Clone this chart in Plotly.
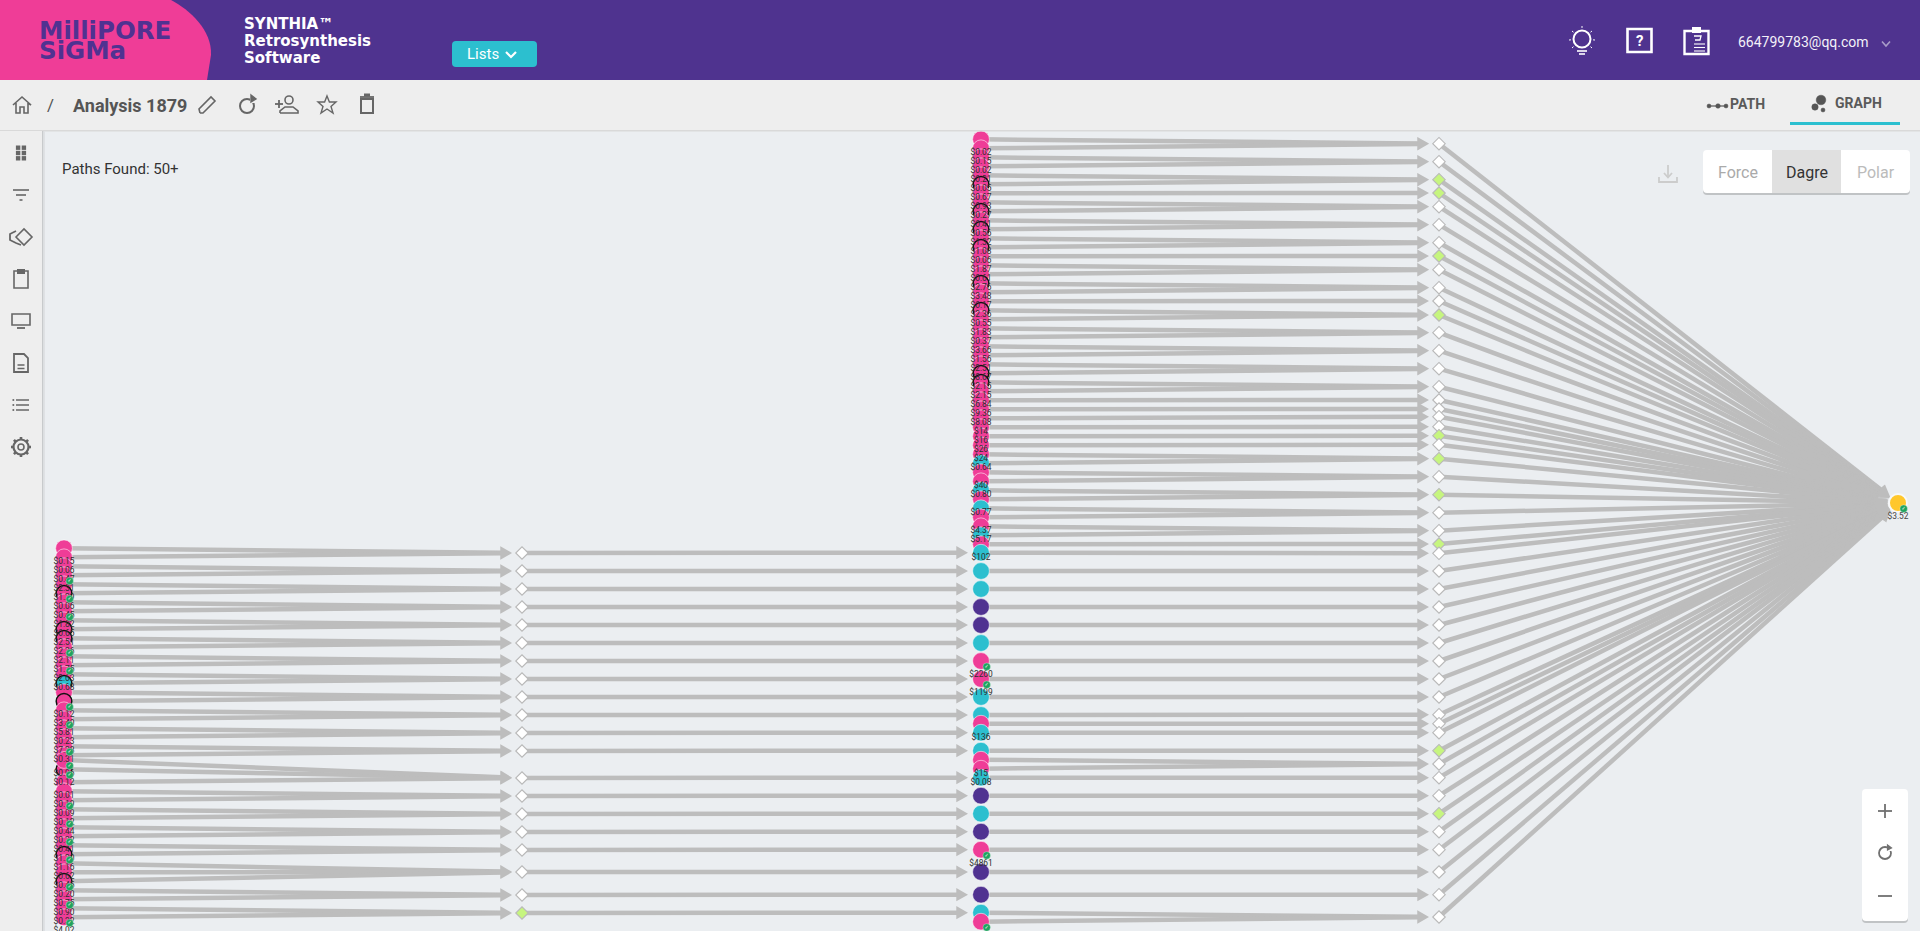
import numpy as np
import plotly.graph_objects as go

PINK = '#ef3d97'
TEAL = '#2cbfcf'
PURPLE = '#503291'
EDGE = '#bdbdbd'
ICON = '#666666'
NODE_COLOR = {'p': PINK, 't': TEAL, 'u': PURPLE}

# column x positions of the dagre layout
col_x = [64, 522, 981, 1439]
target_x = 1898
target_y = [503]
target_cost = '$3.52'

# first column: starting materials
col0_y = [548.3, 557.3, 566.3, 575.3, 584.3, 593.3, 602.3, 611.3, 620.3, 629.3, 638.3, 647.3, 656.3, 665.3,
          674.3, 683.3, 692.3, 701.3, 710.3, 719.3, 728.3, 737.3, 746.3, 755.3, 769.3, 760, 782.3, 791.3,
          800.3, 809.3, 818.3, 827.3, 836.3, 845.3, 854.3, 863.3, 872.3, 881.3, 890.3, 899.3, 908.3, 917.3]
col0_kind = list('ppppppppppppppp' + 't' + 'p' * 26)
col0_cost = ['$0.15', '$0.06', '$0.47', '$2.31', '$1.29', '$0.06', '$0.45', '$1.82', '$0.65', '$2.51', '$2.36',
             '$2.11', '$1.75', '$2.63', '$0.68', '', '', '$0.12', '$3.40', '$5.81', '$0.23', '$7.28', '$0.31', '',
             '$0.12', '$0.96', '$0.01', '$0.19', '$0.09', '$0.12', '$0.44', '$0.32', '$0.41', '$1.20', '$1.16',
             '$0.62', '$0.45', '$0.20', '$0.75', '$0.90', '$0.32', '$4.02']
col0_ring = [5, 9, 10, 15, 17, 24, 34, 37]
col0_check = [3, 5, 7, 11, 13, 17, 19, 22, 24, 25, 28, 30, 32, 34, 37, 39, 41]
col0_to = [0, 0, 1, 1, 2, 2, 3, 3, 4, 4, 5, 5, 6, 6, 7, 7, 8, 8, 9, 9, 10, 10, 11, 11,
           12, 12, 12, 13, 13, 14, 14, 15, 15, 16, 16, 17, 17, 17, 18, 18, 19, 19]

# second column: reactions
col1_y = [553, 571, 589, 607, 625, 643, 661, 679, 697, 715, 733, 751, 778, 796, 814, 832, 850, 872, 895, 913]
col1_green = [19]
col1_to = [46, 47, 48, 49, 50, 51, 52, 53, 54, 55, 57, 58, 61, 62, 63, 64, 65, 66, 67, 68]

# third column: intermediates
col2_y = [139.3, 148.3, 157.3, 166.3, 175.3, 184.3, 193.3, 202.3, 211.3, 220.3, 229.3, 238.3, 247.3, 256.3,
          265.3, 274.3, 283.3, 292.3, 301.3, 310.3, 319.3, 328.3, 337.3, 346.3, 355.3, 364.3, 373.3, 382.3,
          391.3, 400.3, 409.3, 418.3, 427.3, 436.3, 445.3, 454.3, 463.3, 472.3, 481.3, 490.3, 499.3, 508.3,
          517.3, 526.3, 535.3, 544.3, 552.7, 571, 589, 607, 625, 643, 661, 679, 697, 715, 723.7, 732.7,
          750.7, 759.7, 768.7, 777.7, 795.7, 813.7, 831.7, 849.7, 872, 894.7, 912.7, 921.7]
col2_kind = list('p' * 36 + 'tppt' + 'pt' + 'ppt' + 'p' + 'ttt' + 'uu' + 't' + 'pp' + 'tt' + 'p' + 'tt'
                 + 'pp' + 't' + 'u' + 't' + 'u' + 'p' + 'uu' + 't' + 'p')
col2_cost = ['$0.02', '$0.15', '$0.02', '$0.21', '$0.05', '$0.67', '$0.93', '$0.27', '$0.41', '$0.56', '$1.32',
             '$1.08', '$0.06', '$1.87', '$0.61', '$2.76', '$3.48', '$0.17', '$2.36', '$0.55', '$1.83', '$0.37',
             '$3.66', '$1.56', '$2.51', '$8.67', '$2.15', '$2.15', '$6.84', '$9.36', '$8.08', '$14', '$16',
             '$26', '$24', '$0.64', '', '$40', '$0.80', '', '$0.77', '', '$4.37', '$5.17', '', '$102',
             '', '', '', '', '', '', '$2260', '$1199', '', '', '$136', '', '', '$15', '$0.08', '', '', '', '',
             '$4861', '', '', '', '']
col2_ring = [5, 8, 10, 12, 16, 19, 26, 27]
col2_check = [52, 53, 65, 69]
col2_to = [0, 0, 1, 1, 2, 2, 3, 4, 4, 5, 5, 6, 6, 7, 8, 8, 9, 9, 10, 11, 11, 12, 12, 13, 13, 14, 14, 15, 15,
           16, 17, 18, 19, 20, 21, 22, 22, 23, 23, 24, 24, 25, 25, 26, 26, 27, 28, 29, 30, 31, 32, 33, 34, 35,
           36, 37, 38, 39, 40, 41, 41, 42, 43, 44, 45, 46, 47, 48, 49, 49]

# fourth column: last reactions
col3_y = [143.7, 161.7, 179.7, 193, 206.7, 224.7, 242.7, 256, 269.7, 287.7, 301, 315, 332.7, 350.7, 368.7,
          386.7, 400, 409, 416.7, 426.7, 435.7, 444.7, 458.7, 476.7, 494.7, 512.7, 530.7, 544, 553.3, 571,
          589, 607, 625, 643, 661, 679, 697, 714.7, 723.7, 732.7, 750.7, 764, 777.7, 795.7, 813.7, 831.7,
          849.7, 872, 894.7, 917]
col3_green = [2, 3, 7, 11, 20, 22, 24, 27, 40, 44]

fig = go.Figure()


def add_edges(src_x, src_y, dst_x, dst_y, dst_index, gap):
    # straight edge plus a filled arrow head stopping short of the node
    line_x, line_y, head_x, head_y = [], [], [], []
    for y0, i in zip(src_y, dst_index):
        p0 = np.array([src_x, y0])
        p1 = np.array([dst_x, dst_y[i]])
        u = (p1 - p0) / np.linalg.norm(p1 - p0)
        n = np.array([-u[1], u[0]])
        tip = p1 - u * gap
        base = tip - u * 11.7
        line_x += [p0[0], base[0] + u[0], None]
        line_y += [p0[1], base[1] + u[1], None]
        a, b = base + n * 6.6, base - n * 6.6
        head_x += [a[0], tip[0], b[0], a[0], None]
        head_y += [a[1], tip[1], b[1], a[1], None]
    fig.add_trace(go.Scatter(x=line_x, y=line_y, mode='lines', line=dict(color=EDGE, width=4.5)))
    fig.add_trace(go.Scatter(x=head_x, y=head_y, mode='lines', line=dict(color=EDGE, width=0),
                             fill='toself', fillcolor=EDGE))


def add_circles(x, ys, kinds, costs, rings, checks):
    fig.add_trace(go.Scatter(
        x=[x] * len(ys), y=ys, mode='markers',
        marker=dict(
            opacity=1,
            color=[NODE_COLOR[k] for k in kinds],
            size=[15.6 if i in rings else 16.8 for i in range(len(ys))],
            line=dict(color=['#111111' if i in rings else 'rgba(255,255,255,0.55)' for i in range(len(ys))],
                      width=[1.5 if i in rings else 1 for i in range(len(ys))]),
        ),
    ))
    fig.add_trace(go.Scatter(
        x=[x] * len(ys), y=[y + 14 for y in ys], mode='text', text=costs,
        textfont=dict(family='Roboto', size=8.4, color='#2f2f2f'),
    ))
    add_checks([x + 5.7] * len(checks), [ys[i] + 5.7 for i in checks])


def add_checks(xs, ys):
    fig.add_trace(go.Scatter(
        x=xs, y=ys, mode='markers+text', text=['✓'] * len(xs), textposition='middle center',
        textfont=dict(family='DejaVu Sans', size=5, color='white'),
        marker=dict(opacity=1, color='#1fa35f', size=7.5, line=dict(color='rgba(255,255,255,0.6)', width=0.5)),
    ))


def add_diamonds(x, ys, green):
    fig.add_trace(go.Scatter(
        x=[x] * len(ys), y=ys, mode='markers',
        marker=dict(
            opacity=1, symbol='diamond', size=9.6,
            color=['#c6f57f' if i in green else 'white' for i in range(len(ys))],
            line=dict(color='#b9b9b9', width=1.1),
        ),
    ))


add_edges(col_x[0], col0_y, col_x[1], col1_y, col0_to, 10)
add_edges(col_x[1], col1_y, col_x[2], col2_y, col1_to, 13)
add_edges(col_x[2], col2_y, col_x[3], col3_y, col2_to, 10)
add_edges(col_x[3], col3_y, target_x, target_y, [0] * len(col3_y), 10)

add_circles(col_x[0], col0_y, col0_kind, col0_cost, col0_ring, col0_check)
add_diamonds(col_x[1], col1_y, col1_green)
add_circles(col_x[2], col2_y, col2_kind, col2_cost, col2_ring, col2_check)
add_diamonds(col_x[3], col3_y, col3_green)

# target molecule
fig.add_trace(go.Scatter(x=[target_x], y=target_y, mode='markers',
                         marker=dict(opacity=1, color='#ffc72c', size=18, line=dict(color='#f7f8f9', width=2))))
fig.add_trace(go.Scatter(x=[target_x], y=[target_y[0] + 14], mode='text', text=[target_cost],
                         textfont=dict(family='Roboto', size=8.4, color='#444444')))
add_checks([target_x + 5.7], [target_y[0] + 5.7])

# page chrome, everything below is in screen pixels
shapes = []
notes = []


def rect(x0, y0, x1, y1, fill, line=None, width=0, layer='above'):
    shapes.append(dict(type='rect', x0=x0, y0=y0, x1=x1, y1=y1, xref='x', yref='y', fillcolor=fill,
                       line=dict(color=line or fill, width=width), layer=layer))


def rounded(x0, y0, x1, y1, r, fill):
    path = (f'M{x0 + r},{y0} L{x1 - r},{y0} Q{x1},{y0} {x1},{y0 + r} L{x1},{y1 - r} Q{x1},{y1} {x1 - r},{y1} '
            f'L{x0 + r},{y1} Q{x0},{y1} {x0},{y1 - r} L{x0},{y0 + r} Q{x0},{y0} {x0 + r},{y0} Z')
    shapes.append(dict(type='path', path=path, xref='x', yref='y', fillcolor=fill, line=dict(width=0), layer='above'))


def poly(cx, cy, pts, color=ICON, width=1.6, fill=None, closed=False):
    d = 'M' + ' L'.join(f'{cx + x},{cy + y}' for x, y in pts) + (' Z' if closed else '')
    shapes.append(dict(type='path', path=d, xref='x', yref='y', fillcolor=fill,
                       line=dict(color=color, width=width), layer='above'))


def circle(cx, cy, r, color=ICON, width=1.6, fill=None):
    shapes.append(dict(type='circle', x0=cx - r, y0=cy - r, x1=cx + r, y1=cy + r, xref='x', yref='y',
                       fillcolor=fill, line=dict(color=color, width=width), layer='above'))


def label(x, y, text, size, color, family='Roboto', anchor='left'):
    notes.append(dict(x=x, y=y, xref='x', yref='y', text=text, showarrow=False, xanchor=anchor, yanchor='middle',
                      font=dict(family=family, size=size, color=color)))


# header and toolbars
rect(0, 0, 1920, 80, '#4f338f')
shapes.append(dict(type='path', path='M0,0 L171,0 C190,10 212,30 211,55 L207,80 L0,80 Z', xref='x', yref='y',
                   fillcolor=PINK, line=dict(width=0), layer='above'))
label(37, 30, '<b>MilliPORE</b>', 24.5, '#503291', 'DejaVu Sans')
label(37, 50, '<b>SiGMa</b>', 24.5, '#503291', 'DejaVu Sans')
label(242, 24, '<b>SYNTHIA™</b>', 15, 'white', 'DejaVu Sans')
label(242, 41, '<b>Retrosynthesis</b>', 15, 'white', 'DejaVu Sans')
label(242, 58, '<b>Software</b>', 15, 'white', 'DejaVu Sans')
rounded(452, 41, 537, 67, 4, TEAL)
label(465, 54, 'Lists', 15, 'white')
poly(511, 55, [(-5, -3), (0, 2), (5, -3)], 'white', 2.2)

circle(1582, 39, 8.5, 'white', 2)
poly(1582, 51, [(-5, 0), (5, 0)], 'white', 1.6)
poly(1582, 54, [(-3, 0), (3, 0)], 'white', 1.6)
for dx, dy in [(-13, 1), (13, 1), (-10, -8), (10, -8), (-10, 9), (10, 9), (0, -13)]:
    poly(1582, 39, [(dx, dy), (dx * 0.85, dy * 0.85)], 'white', 1)
poly(1627.5, 29, [(0, 0), (24, 0), (24, 23), (0, 23)], 'white', 2.6, closed=True)
label(1639.5, 41, '<b>?</b>', 15, 'white', anchor='center')
poly(1684.5, 31, [(0, 0), (24, 0), (24, 23), (0, 23)], 'white', 2.4, closed=True)
rect(1692, 27, 1701, 33, 'white')
poly(1692, 36, [(2, 0), (9, 0), (8, 4), (3, 4)], 'white', 1.3)
for dy in [44, 47.5, 51]:
    poly(1684, dy, [(10, 0), (21, 0)], 'white', 1.1)
label(1735.5, 42, '664799783@qq.com', 14, '#f3f1f8')
poly(1886, 44, [(-4, -2.5), (0, 2), (4, -2.5)], '#a99cc8', 1.6)

rect(0, 80, 1920, 130, '#eeeeee')
rect(0, 130, 1920, 131.5, '#d9d9d9')
rect(0, 131, 42, 931, '#eeeeee')
rect(42, 131, 43.5, 931, '#c8cacc')
rect(43.5, 131, 45, 931, '#dfe1e4')
poly(22, 105, [(-9, 0), (0, -8), (9, 0), (6, -2), (6, 8), (2, 8), (2, 2), (-2, 2), (-2, 8), (-6, 8), (-6, -2)], ICON, 1.6)
label(50, 105, '/', 17, '#555555', anchor='center')
label(71, 105, '<b>Analysis 1879</b>', 18, '#555555')
poly(207, 105, [(-7, 8), (-8, 4), (4, -8), (8, -4), (-4, 8), (-7, 8)], ICON, 1.6)
circle(247, 106, 7, ICON, 2)
rect(250, 96, 258, 103, '#eeeeee')
poly(247, 105, [(4, -10), (9, -6), (4, -3)], ICON, 1.4, ICON, True)
circle(289, 100, 4, ICON, 1.6)
poly(289, 113, [(-9, 0), (-9, -2), (-4, -6), (4, -6), (9, -2), (9, 0), (-9, 0)], ICON, 1.6)
poly(279, 104, [(-4, 0), (4, 0)], ICON, 1.8)
poly(279, 104, [(0, -4), (0, 4)], ICON, 1.8)
poly(327, 105, [(0, -9), (2.4, -3), (9, -3), (4, 1.5), (6, 8), (0, 4), (-6, 8), (-4, 1.5), (-9, -3), (-2.4, -3)],
     ICON, 1.4, closed=True)
poly(367, 104, [(-6, -5), (6, -5), (6, 9), (-6, 9)], ICON, 2, closed=True)
poly(367, 97, [(-7, 0), (7, 0)], ICON, 1.8)
rect(364, 93.5, 370, 96.5, ICON)

# path / graph tabs
poly(1709, 106, [(0, 0), (17, 0)], '#555555', 1.2)
for dx, r in [(0, 2), (9, 2.3), (17, 2)]:
    circle(1709 + dx, 106, r, '#555555', 0.5, '#555555')
label(1728, 104, '<b>PATH</b>', 14, '#5a5a5a')
circle(1821, 100, 4.8, '#555555', 0.5, '#555555')
circle(1815, 107, 3.2, '#555555', 0.5, '#555555')
circle(1823, 110, 2, '#555555', 0.5, '#555555')
label(1833, 103, '<b>GRAPH</b>', 14, '#5a5a5a')
rect(1790, 122, 1900, 125, TEAL)

# left rail icons
for dx in [-2.9, 2.9]:
    for dy in [-5.3, 0, 5.3]:
        rect(21 + dx - 2.2, 153 + dy - 2.2, 21 + dx + 2.2, 153 + dy + 2.2, ICON)
poly(21, 190, [(-8, 0), (8, 0)], ICON, 1.6)
poly(21, 195, [(-5, 0), (5, 0)], ICON, 1.6)
poly(21, 200, [(-1.5, 0), (1.5, 0)], ICON, 1.6)
poly(24, 237, [(-8, 0), (0, -8), (8, 0), (0, 8)], ICON, 1.6, closed=True)
poly(14, 237, [(2, -6), (-4, -3), (-4, 3), (2, 6), (7, 8)], ICON, 1.8)
poly(21, 279, [(-7, -8), (7, -8), (7, 9), (-7, 9)], ICON, 1.6, closed=True)
rect(17, 269, 25, 274, ICON)
poly(21, 320, [(-9, -6), (9, -6), (9, 5), (-9, 5)], ICON, 1.6, closed=True)
poly(21, 328, [(-4, 0), (4, 0)], ICON, 1.8)
poly(21, 363, [(-7, -9), (3, -9), (7, -5), (7, 9), (-7, 9)], ICON, 1.8, closed=True)
poly(21, 366, [(-3.5, -1), (3.5, -1)], ICON, 1.5)
poly(21, 366, [(-3.5, 2.5), (3.5, 2.5)], ICON, 1.5)
for dy in [-5, 0, 5]:
    poly(21, 405 + dy, [(-5, 0), (8, 0)], ICON, 1.5)
    poly(21, 405 + dy, [(-8.5, 0), (-6.8, 0)], ICON, 1.8)
circle(21, 447, 3, ICON, 1.6)
circle(21, 447, 7.5, ICON, 2.2)
for a in np.arange(0, 360, 45):
    dx, dy = np.cos(np.radians(a)), np.sin(np.radians(a))
    poly(21, 447, [(7 * dx, 7 * dy), (10 * dx, 10 * dy)], ICON, 2.6)

label(60, 169, 'Paths Found: 50+', 15, '#333333')

# layout switch
poly(1668, 174, [(-9, 3), (-9, 8), (9, 8), (9, 3)], '#cccccc', 1.8)
poly(1668, 174, [(0, -9), (0, 3)], '#cccccc', 1.8)
poly(1668, 174, [(-4, -1), (0, 3.5), (4, -1)], '#cccccc', 1.8)
rounded(1703, 151.5, 1910, 195, 4, 'rgba(0,0,0,0.18)')
rounded(1703, 150, 1910, 193, 4, 'white')
rect(1772, 150, 1841, 193, '#e0e0e0')
label(1737.5, 172, 'Force', 16, '#aaaaaa', anchor='center')
label(1806.5, 172, 'Dagre', 16, '#333333', anchor='center')
label(1876, 172, 'Polar', 16, '#bbbbbb', anchor='center')

# zoom buttons
rounded(1862, 790.5, 1908, 923, 4, 'rgba(0,0,0,0.18)')
rounded(1862, 789, 1908, 921, 4, 'white')
poly(1885, 811, [(-7, 0), (7, 0)], '#707070', 1.8)
poly(1885, 811, [(0, -7), (0, 7)], '#707070', 1.8)
circle(1885, 853, 6, '#707070', 1.8)
rect(1888, 845, 1893, 851, 'white')
poly(1885, 853, [(2.5, -8), (6.5, -5), (2.5, -3)], '#707070', 1.2, '#707070', True)
poly(1885, 896, [(-7, 0), (7, 0)], '#707070', 1.8)

fig.update_layout(
    width=1920,
    height=931,
    margin=dict(l=0, r=0, t=0, b=0),
    plot_bgcolor='#ebeef1',
    paper_bgcolor='#ebeef1',
    showlegend=False,
    hovermode=False,
    shapes=shapes,
    annotations=notes,
    xaxis=dict(range=[0, 1920], visible=False, fixedrange=True),
    yaxis=dict(range=[931, 0], visible=False, fixedrange=True),
)

fig.write_html("out.html", config=dict(displayModeBar=False),
               post_script="document.body.style.margin='0';document.body.style.overflow='hidden';")
